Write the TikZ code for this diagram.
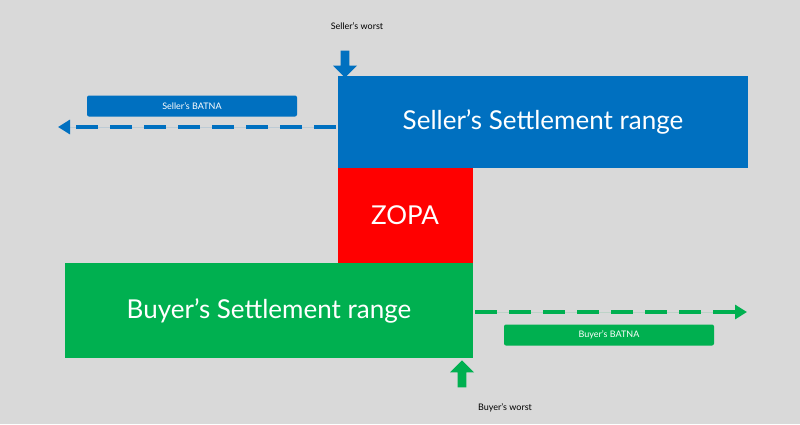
\documentclass[tikz,border=0pt]{standalone}
\usepackage{fontspec}
\setmainfont{Lato}
\usetikzlibrary{shapes.arrows,arrows.meta}
\definecolor{bg}{HTML}{D9D9D9}
\definecolor{sblue}{HTML}{0070C0}
\definecolor{bgreen}{HTML}{00B050}
\definecolor{zred}{HTML}{FF0000}
\begin{document}
\begin{tikzpicture}[x=1pt,y=-1pt,
  lab/.style={rounded corners=2pt,text=white,font=\small,minimum height=21pt,minimum width=210pt,inner sep=0},
  dashline/.style={line width=4pt,dash pattern=on 22pt off 12pt,-{Triangle[length=12pt,width=14pt]}}]
\fill[bg] (0,0) rectangle (800,424);
\useasboundingbox (0,0) rectangle (800,424);
\fill[sblue] (338,76) rectangle (748,168);
\node[text=white,font=\fontsize{26}{30}\selectfont] (seller) at (543,122) {Seller’s Settlement range};
\fill[zred] (338,168) rectangle (473,263);
\node[text=white,font=\fontsize{26}{30}\selectfont] (zopa) at (405,215) {ZOPA};
\fill[bgreen] (65,263) rectangle (473,358);
\node[text=white,font=\fontsize{26}{30}\selectfont] (buyer) at (269,311) {Buyer’s Settlement range};
\node[lab,fill=sblue] (sb) at (192,106) {Seller’s BATNA};
\node[lab,fill=bgreen] (bb) at (609,335) {Buyer’s BATNA};
\coordinate (s0) at (336,127); \coordinate (s1) at (58,127);
\draw[dashline,draw=sblue,fill=sblue] (s0) -- (s1);
\coordinate (b0) at (475,312); \coordinate (b1) at (747,312);
\draw[dashline,draw=bgreen,fill=bgreen] (b0) -- (b1);
\node[font=\small] (sw) at (357,26) {Seller’s worst};
\node[single arrow,fill=sblue,shape border rotate=270,minimum height=27pt,minimum width=24pt,single arrow head extend=4pt,inner sep=2pt] (swa) at (345,62) {};
\node[font=\small] (bw) at (505,408) {Buyer’s worst};
\node[single arrow,fill=bgreen,shape border rotate=90,minimum height=27pt,minimum width=24pt,single arrow head extend=4pt,inner sep=2pt] (bwa) at (462,376) {};
\end{tikzpicture}
\end{document}
